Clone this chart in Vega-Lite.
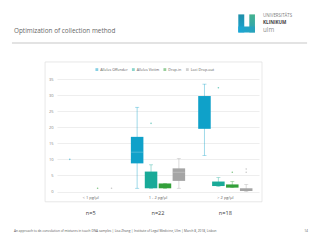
{
  "$schema": "https://vega.github.io/schema/vega-lite/v6.json",
  "width": 202,
  "height": 112.5,
  "autosize": "none",
  "padding": {"left": 57, "top": 79, "right": 61, "bottom": 48.5},
  "background": "white",
  "config": {
    "view": {"stroke": null},
    "font": "Open Sans",
    "axis": {"labelFont": "Open Sans", "titleFont": "Open Sans"},
    "legend": {"labelFont": "Open Sans"}
  },
  "datasets": {
    "boxes": [
      {"range": "1 - 2 pg/µl", "series": "Alleles Offender", "lower": 1, "q1": 8.75, "median": 12.25, "q3": 17, "upper": 26.2},
      {"range": "1 - 2 pg/µl", "series": "Alleles Victim", "lower": 1, "q1": 1, "median": null, "q3": 6.2, "upper": 8.3},
      {"range": "1 - 2 pg/µl", "series": "Drop-in", "lower": 1, "q1": 1, "median": null, "q3": 2.5, "upper": 2.5},
      {"range": "1 - 2 pg/µl", "series": "Loci Drop-out", "lower": 1, "q1": 3.3, "median": 6, "q3": 7.2, "upper": 10.3},
      {"range": "> 2 pg/µl", "series": "Alleles Offender", "lower": 11.2, "q1": 19.5, "median": null, "q3": 29.7, "upper": 33.4},
      {"range": "> 2 pg/µl", "series": "Alleles Victim", "lower": 1.6, "q1": 1.7, "median": null, "q3": 3.1, "upper": 4.3},
      {"range": "> 2 pg/µl", "series": "Drop-in", "lower": 1.2, "q1": 1.2, "median": null, "q3": 2.2, "upper": 3.1},
      {"range": "> 2 pg/µl", "series": "Loci Drop-out", "lower": 0, "q1": 0.15, "median": null, "q3": 1, "upper": 2.2}
    ],
    "outliers": [
      {"range": "< 1 pg/µl", "series": "Alleles Offender", "value": 10},
      {"range": "< 1 pg/µl", "series": "Drop-in", "value": 1},
      {"range": "< 1 pg/µl", "series": "Loci Drop-out", "value": 1},
      {"range": "1 - 2 pg/µl", "series": "Alleles Victim", "value": 21.2},
      {"range": "> 2 pg/µl", "series": "Alleles Victim", "value": 32.3},
      {"range": "> 2 pg/µl", "series": "Drop-in", "value": 6},
      {"range": "> 2 pg/µl", "series": "Loci Drop-out", "value": 7},
      {"range": "> 2 pg/µl", "series": "Loci Drop-out", "value": 6}
    ],
    "counts": [
      {"range": "< 1 pg/µl", "label": "n=5"},
      {"range": "1 - 2 pg/µl", "label": "n=22"},
      {"range": "> 2 pg/µl", "label": "n=18"}
    ]
  },
  "layer": [
    {
      "encoding": {
        "x": {
          "field": "range", "type": "nominal",
          "sort": ["< 1 pg/µl", "1 - 2 pg/µl", "> 2 pg/µl"],
          "scale": {"domain": ["< 1 pg/µl", "1 - 2 pg/µl", "> 2 pg/µl"], "paddingInner": 0, "paddingOuter": 0},
          "axis": {"title": null, "domain": false, "ticks": false, "labelAngle": 0, "labelFontSize": 4, "labelColor": "#595959", "labelPadding": 4}
        }
      },
      "layer": [
        {
          "data": {"name": "boxes"},
          "mark": {"type": "rule", "strokeWidth": 0.8, "opacity": 0.5},
          "encoding": {
            "xOffset": {"field": "series", "type": "nominal", "scale": {"domain": ["Alleles Offender", "Alleles Victim", "Drop-in", "Loci Drop-out"], "paddingInner": 0.1, "paddingOuter": 0.47}},
            "y": {
              "field": "lower", "type": "quantitative",
              "scale": {"domain": [0, 35], "nice": false, "zero": false},
              "axis": {"title": null, "tickCount": 7, "labelOverlap": false, "labelFlush": false, "domain": false, "ticks": false, "gridColor": "#E3E3E3", "gridWidth": 0.6, "labelFontSize": 4, "labelColor": "#7F7F7F", "labelPadding": 4}
            },
            "y2": {"field": "upper"},
            "color": {
              "field": "series", "type": "nominal",
              "scale": {"domain": ["Alleles Offender", "Alleles Victim", "Drop-in", "Loci Drop-out"], "range": ["#0FA1C9", "#19AA98", "#33A03A", "#A5A5A5"]},
              "legend": {"title": null, "orient": "none", "legendX": 38, "legendY": -11.5, "direction": "horizontal", "symbolType": "square", "symbolSize": 8, "symbolStrokeWidth": 0, "symbolOpacity": 1, "labelFontSize": 3.7, "labelColor": "#595959", "labelOffset": 1.5, "columnPadding": 3.5, "padding": 0}
            }
          }
        },
        {
          "data": {"name": "boxes"},
          "mark": {"type": "tick", "size": 4, "thickness": 0.7, "opacity": 0.5},
          "encoding": {
            "xOffset": {"field": "series", "type": "nominal"},
            "y": {"field": "upper", "type": "quantitative"},
            "color": {"field": "series", "type": "nominal"}
          }
        },
        {
          "data": {"name": "boxes"},
          "mark": {"type": "tick", "size": 4, "thickness": 0.7, "opacity": 0.5},
          "encoding": {
            "xOffset": {"field": "series", "type": "nominal"},
            "y": {"field": "lower", "type": "quantitative"},
            "color": {"field": "series", "type": "nominal"}
          }
        },
        {
          "data": {"name": "boxes"},
          "mark": {"type": "bar"},
          "encoding": {
            "xOffset": {"field": "series", "type": "nominal"},
            "y": {"field": "q1", "type": "quantitative"},
            "y2": {"field": "q3"},
            "color": {"field": "series", "type": "nominal"}
          }
        },
        {
          "data": {"name": "boxes"},
          "mark": {"type": "tick", "size": 12, "thickness": 0.7, "color": "white", "opacity": 0.35},
          "encoding": {
            "xOffset": {"field": "series", "type": "nominal"},
            "y": {"field": "median", "type": "quantitative"}
          }
        },
        {
          "data": {"name": "outliers"},
          "mark": {"type": "point", "filled": true, "size": 2.5, "opacity": 0.6},
          "encoding": {
            "xOffset": {"field": "series", "type": "nominal"},
            "y": {"field": "value", "type": "quantitative"},
            "color": {"field": "series", "type": "nominal"}
          }
        }
      ]
    },
    {
      "data": {"name": "counts"},
      "mark": {"type": "text", "fontSize": 5.6, "color": "#404040", "baseline": "middle"},
      "encoding": {
        "x": {"field": "range", "type": "nominal", "scale": {"domain": ["< 1 pg/µl", "1 - 2 pg/µl", "> 2 pg/µl"], "paddingInner": 0, "paddingOuter": 0}, "axis": null},
        "y": {"datum": -6.7, "type": "quantitative", "scale": {"domain": [0, 35], "nice": false, "zero": false}, "axis": null},
        "text": {"field": "label"}
      }
    },
    {
      "data": {"values": [{}]},
      "layer": [
        {
          "mark": {"type": "rect", "fill": "transparent", "stroke": "#D9D9D9", "strokeWidth": 0.6},
          "encoding": {
            "x": {"datum": -0.059, "type": "quantitative", "scale": {"domain": [0, 1], "nice": false, "zero": false}, "axis": null},
            "x2": {"datum": 1.015},
            "y": {"datum": 40.3, "type": "quantitative", "scale": {"domain": [0, 35], "nice": false, "zero": false}, "axis": null},
            "y2": {"datum": -3.2}
          }
        },
        {
          "mark": {"type": "rule", "stroke": "#DADADA", "strokeWidth": 1.3},
          "encoding": {
            "x": {"datum": -0.223, "type": "quantitative", "axis": null},
            "x2": {"datum": 1.238},
            "y": {"datum": 46.2, "type": "quantitative", "axis": null}
          }
        },
        {
          "mark": {"type": "text", "text": "Optimization of collection method", "fontSize": 6.4, "color": "#666666", "align": "left", "baseline": "middle"},
          "encoding": {
            "x": {"datum": -0.213, "type": "quantitative", "axis": null},
            "y": {"datum": 49.8, "type": "quantitative", "axis": null}
          }
        },
        {
          "mark": {"type": "rect", "color": {"gradient": "linear", "x1": 0, "y1": 0, "x2": 0, "y2": 1, "stops": [{"offset": 0, "color": "#1F8FA8"}, {"offset": 1, "color": "#1AA6D6"}]}},
          "encoding": {
            "x": {"datum": 0.8975, "type": "quantitative", "axis": null},
            "x2": {"datum": 0.927},
            "y": {"datum": 55.1, "type": "quantitative", "axis": null},
            "y2": {"datum": 49.5}
          }
        },
        {
          "mark": {"type": "rect", "color": {"gradient": "linear", "x1": 0, "y1": 0, "x2": 0, "y2": 1, "stops": [{"offset": 0, "color": "#45B28F"}, {"offset": 1, "color": "#2AA2B8"}]}},
          "encoding": {
            "x": {"datum": 0.952, "type": "quantitative", "axis": null},
            "x2": {"datum": 0.98},
            "y": {"datum": 55.1, "type": "quantitative", "axis": null},
            "y2": {"datum": 49.5}
          }
        },
        {
          "mark": {"type": "rect", "color": {"gradient": "linear", "x1": 0, "y1": 0, "x2": 1, "y2": 0, "stops": [{"offset": 0, "color": "#1AA6D6"}, {"offset": 1, "color": "#2AA2B8"}]}},
          "encoding": {
            "x": {"datum": 0.8975, "type": "quantitative", "axis": null},
            "x2": {"datum": 0.98},
            "y": {"datum": 51.3, "type": "quantitative", "axis": null},
            "y2": {"datum": 49.5}
          }
        },
        {
          "mark": {"type": "text", "text": "UNIVERSITÄTS", "fontSize": 4.4, "color": "#808080", "align": "left", "baseline": "middle"},
          "encoding": {
            "x": {"datum": 1.02, "type": "quantitative", "axis": null},
            "y": {"datum": 54.6, "type": "quantitative", "axis": null}
          }
        },
        {
          "mark": {"type": "text", "text": "KLINIKUM", "fontSize": 4.6, "fontWeight": "bold", "color": "#404040", "align": "left", "baseline": "middle"},
          "encoding": {
            "x": {"datum": 1.02, "type": "quantitative", "axis": null},
            "y": {"datum": 52.3, "type": "quantitative", "axis": null}
          }
        },
        {
          "mark": {"type": "text", "text": "ulm", "fontSize": 6.2, "color": "#8C8C8C", "align": "left", "baseline": "middle"},
          "encoding": {
            "x": {"datum": 1.02, "type": "quantitative", "axis": null},
            "y": {"datum": 50.2, "type": "quantitative", "axis": null}
          }
        },
        {
          "mark": {"type": "text", "text": "An approach to de-convolution of mixtures in touch DNA samples | Lisa Zhang | Institute of Legal Medicine, Ulm | March 8, 2018, Lisbon", "fontSize": 3.2, "color": "#595959", "align": "left", "baseline": "middle"},
          "encoding": {
            "x": {"datum": -0.213, "type": "quantitative", "axis": null},
            "y": {"datum": -12.3, "type": "quantitative", "axis": null}
          }
        },
        {
          "mark": {"type": "text", "text": "14", "fontSize": 3.4, "color": "#595959", "align": "center", "baseline": "middle"},
          "encoding": {
            "x": {"datum": 1.233, "type": "quantitative", "axis": null},
            "y": {"datum": -12.3, "type": "quantitative", "axis": null}
          }
        }
      ]
    }
  ],
  "resolve": {"scale": {"x": "independent", "y": "independent"}}
}
